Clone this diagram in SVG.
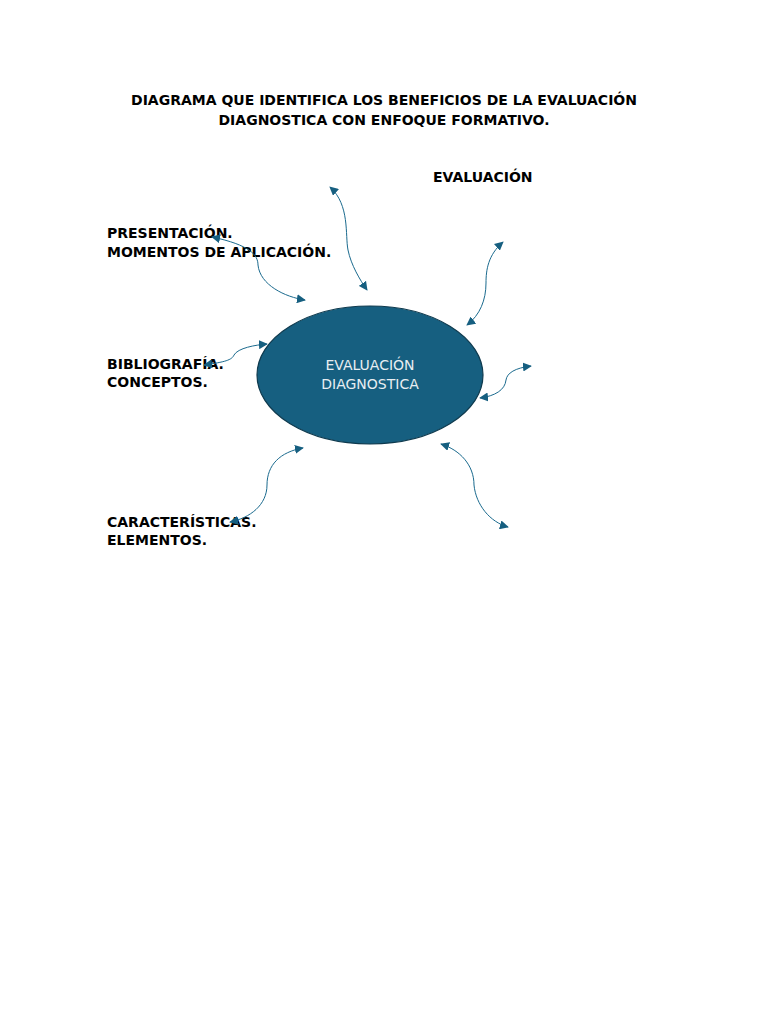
<svg xmlns="http://www.w3.org/2000/svg" width="768" height="1024" viewBox="0 0 768 1024">
<style>
.t{font-family:"DejaVu Sans",sans-serif;font-weight:bold;font-size:14px;fill:#000}
.c{fill:none;stroke:#1a6a8e;stroke-width:1}
</style>
<defs><marker id="a" viewBox="0 0 10 10" refX="9" refY="5" markerWidth="9" markerHeight="9" markerUnits="userSpaceOnUse" orient="auto-start-reverse"><path d="M0,0L10,5L0,10z" fill="#165f80"/></marker></defs>
<rect width="768" height="1024" fill="#fff"/>
<g id="title"><text class="t" x="384" y="105" text-anchor="middle">DIAGRAMA QUE IDENTIFICA LOS BENEFICIOS DE LA EVALUACIÓN</text><text class="t" x="384" y="125" text-anchor="middle">DIAGNOSTICA CON ENFOQUE FORMATIVO.</text></g>
<g id="evaluacion"><text class="t" x="433" y="182">EVALUACIÓN</text></g>
<g id="presentacion"><text class="t" x="107" y="238">PRESENTACIÓN.</text><text class="t" x="107" y="257">MOMENTOS DE APLICACIÓN.</text></g>
<g id="bibliografia"><text class="t" x="107" y="369">BIBLIOGRAFÍA.</text><text class="t" x="107" y="387">CONCEPTOS.</text></g>
<g id="caracteristicas"><text class="t" x="107" y="527">CARACTERÍSTICAS.</text><text class="t" x="107" y="545">ELEMENTOS.</text></g>
<g id="center"><ellipse cx="370" cy="375" rx="113" ry="69" fill="#165f80" stroke="#0f3a4e" stroke-width="1.2"/><text x="370" y="370" text-anchor="middle" font-family="DejaVu Sans,sans-serif" font-size="14" fill="#e8eef2">EVALUACIÓN</text><text x="370" y="389" text-anchor="middle" font-family="DejaVu Sans,sans-serif" font-size="14" fill="#e8eef2">DIAGNOSTICA</text></g>
<g id="connectors" marker-start="url(#a)" marker-end="url(#a)">
<path class="c" marker-start="url(#a)" marker-end="url(#a)" d="M330,187 C350,205 345,235 348,250 S360,280 367,290"/>
<path class="c" marker-start="url(#a)" marker-end="url(#a)" d="M212,237 C250,245 258,255 258,265 C260,285 285,297 305,300"/>
<path class="c" marker-start="url(#a)" marker-end="url(#a)" d="M503,242 C488,255 486,270 486,283 C486,300 480,315 467,325"/>
<path class="c" marker-start="url(#a)" marker-end="url(#a)" d="M204,365 C225,362 232,360 234,355 C238,348 255,345 267,344"/>
<path class="c" marker-start="url(#a)" marker-end="url(#a)" d="M531,366 C515,368 507,373 506,380 C505,390 495,396 480,398"/>
<path class="c" marker-start="url(#a)" marker-end="url(#a)" d="M303,448 C280,452 267,465 267,485 C267,505 250,518 230,522"/>
<path class="c" marker-start="url(#a)" marker-end="url(#a)" d="M441,444 C460,450 474,465 474,485 C476,505 490,522 508,527"/>
</g>
</svg>
